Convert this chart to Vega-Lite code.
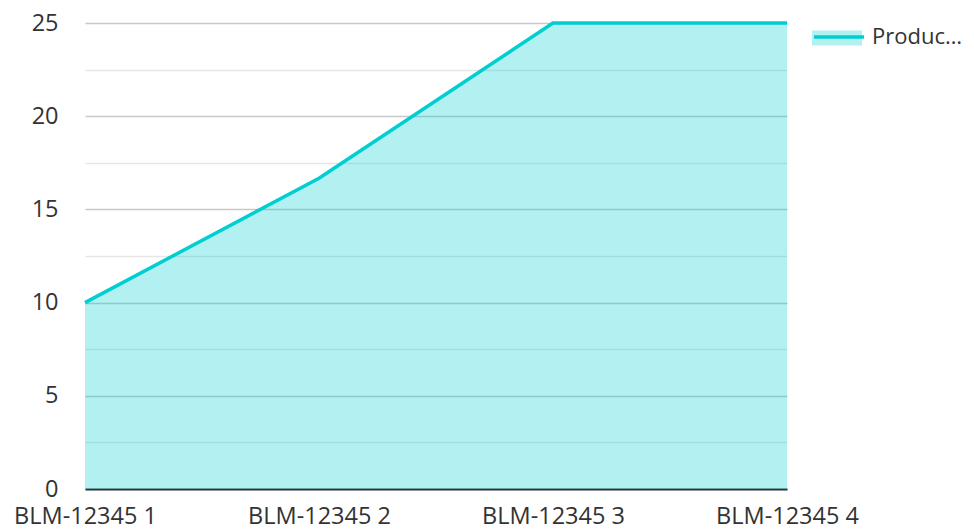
{
  "$schema": "https://vega.github.io/schema/vega-lite/v6.json",
  "width": 702,
  "height": 466,
  "autosize": {"type": "none"},
  "padding": {"left": 85, "top": 23, "right": 187, "bottom": 42},
  "config": {
    "font": "Open Sans",
    "view": {"stroke": null},
    "legend": {"padding": 0}
  },
  "data": {
    "values": [
      {"item": "BLM-12345 1", "value": 10, "series": "Production"},
      {"item": "BLM-12345 2", "value": 16.67, "series": "Production"},
      {"item": "BLM-12345 3", "value": 25, "series": "Production"},
      {"item": "BLM-12345 4", "value": 25, "series": "Production"}
    ]
  },
  "encoding": {
    "x": {
      "field": "item",
      "type": "ordinal",
      "scale": {"type": "point", "padding": 0},
      "axis": {
        "title": null,
        "labelAngle": 0,
        "labelFontSize": 23.5,
        "labelColor": "#333333",
        "labelPadding": 15,
        "labelOverlap": false,
        "labelBound": false,
        "ticks": false,
        "grid": false,
        "domainColor": "#333333",
        "domainWidth": 2
      }
    },
    "y": {
      "field": "value",
      "type": "quantitative",
      "scale": {"domain": [0, 25], "nice": false},
      "axis": {
        "title": null,
        "values": [0, 2.5, 5, 7.5, 10, 12.5, 15, 17.5, 20, 22.5, 25],
        "labelExpr": "datum.value % 5 === 0 ? datum.label : ''",
        "labelFontSize": 23.5,
        "labelColor": "#333333",
        "labelPadding": 27,
        "ticks": false,
        "domain": false,
        "gridColor": {"condition": {"test": "datum.value % 5 === 0", "value": "#c8c8c8"}, "value": "#e6e6e6"},
        "gridWidth": 1.5
      }
    }
  },
  "layer": [
    {
      "mark": {"type": "area", "opacity": 0.3},
      "encoding": {
        "fill": {
          "field": "series",
          "type": "nominal",
          "scale": {"range": ["#00CED1"]},
          "legend": {
            "title": null,
            "orient": "none",
            "legendX": 727,
            "legendY": -13,
            "symbolType": "M-1,-0.18H1V0.42H-1Z",
            "symbolSize": 2500,
            "symbolOpacity": 0.3,
            "symbolStrokeWidth": 0,
            "labelExpr": "''",
            "labelFontSize": 22,
            "labelOffset": 6
          }
        }
      }
    },
    {
      "mark": {"type": "line", "strokeWidth": 3.5},
      "encoding": {
        "stroke": {
          "field": "series",
          "type": "nominal",
          "scale": {"range": ["#00CED1"]},
          "legend": {
            "title": null,
            "orient": "none",
            "legendX": 727,
            "legendY": -13,
            "symbolType": "M-1,0H1",
            "symbolSize": 2500,
            "symbolStrokeWidth": 3.5,
            "labelFontSize": 22,
            "labelColor": "#333333",
            "labelOffset": 6,
            "labelLimit": 92
          }
        }
      }
    }
  ]
}
